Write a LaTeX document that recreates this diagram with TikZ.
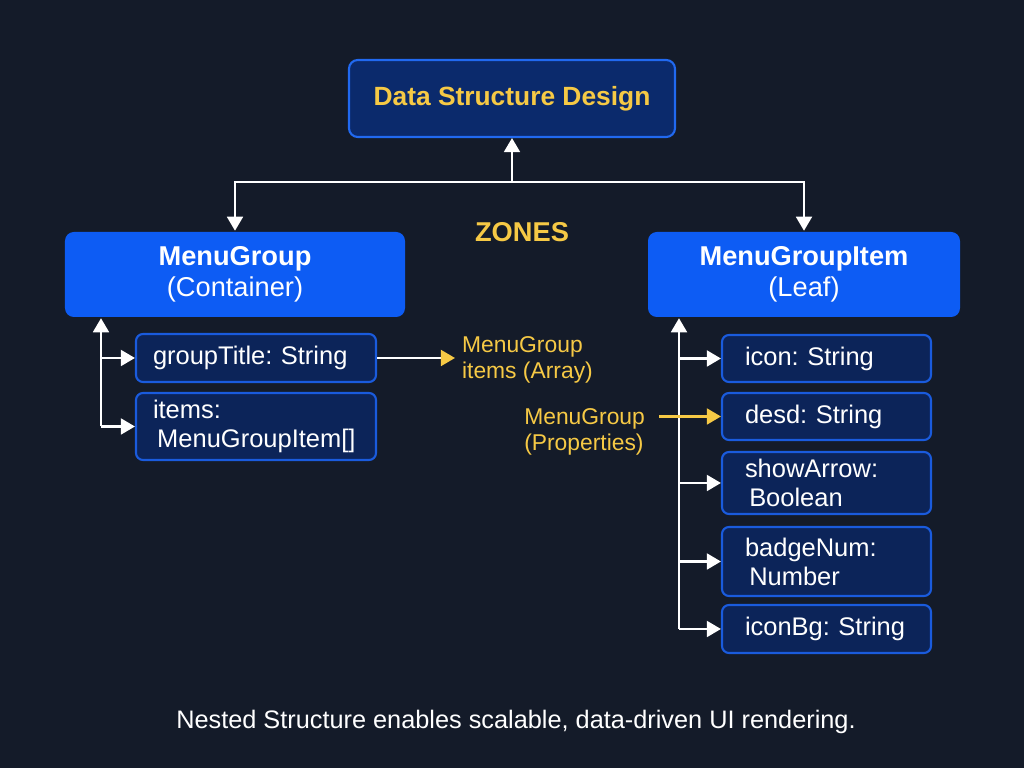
\documentclass[tikz,border=0pt]{standalone}
\usepackage{fontspec}
\setmainfont{Liberation Sans}
\usepackage{xcolor}
\usepackage{tikz}
\usetikzlibrary{arrows.meta}
\frenchspacing

\definecolor{bgnavy}{HTML}{141B29}
\definecolor{titlefill}{HTML}{0B2A6C}
\definecolor{boxedge}{HTML}{2169F0}
\definecolor{brightblue}{HTML}{0D5CF4}
\definecolor{fieldfill}{HTML}{0C2459}
\definecolor{fieldedge}{HTML}{1A5BDD}
\definecolor{gold}{HTML}{F6C945}

\begin{document}
\begin{tikzpicture}[line width=1.4pt,
  titlebox/.style={draw=boxedge,fill=titlefill,rounded corners=5pt,line width=1.2pt,
    minimum width=6.52cm,minimum height=1.54cm,text=gold,
    font=\bfseries\fontsize{15}{18}\selectfont},
  headbox/.style={fill=brightblue,rounded corners=5pt,minimum height=1.7cm,
    text=white,align=center,font=\fontsize{15.5}{18}\selectfont},
  fieldbox/.style={draw=fieldedge,fill=fieldfill,rounded corners=4pt,line width=1.2pt,
    text=white,align=left,font=\fontsize{14.5}{16.5}\selectfont},
  goldtext/.style={text=gold,align=left,font=\fontsize{13}{15}\selectfont},
  link/.style={draw=white,-{Triangle[length=8pt,width=9pt]}},
  goldlink/.style={draw=gold,-{Triangle[length=8pt,width=9pt]}}]
  \fill[bgnavy] (0,0) rectangle (20.48,15.36);

  \node[titlebox] (design) at (10.24,13.39) {Data Structure Design};
  \node[headbox,minimum width=6.8cm] (group) at (4.70,9.87)
    {\textbf{MenuGroup}\\(Container)};
  \node[headbox,minimum width=6.24cm] (leaf) at (16.08,9.87)
    {\textbf{MenuGroupItem}\\(Leaf)};
  \node[text=gold,font=\bfseries\fontsize{15.5}{18}\selectfont] (zones) at (10.44,10.72) {ZONES};

  \coordinate (split) at (10.24,11.72);
  \draw[link] (split) -- (design.south);
  \draw[link] (split) -| (group.north);
  \draw[link] (split) -| (leaf.north);

  \node[fieldbox,text width=4.12cm,minimum height=0.96cm,inner xsep=0.34cm] (gtitle) at (5.12,8.20)
    {groupTitle: String};
  \node[fieldbox,text width=4.12cm,minimum height=1.34cm,inner xsep=0.34cm] (items) at (5.12,6.83)
    {items:\\ \,MenuGroupItem[]};

  \coordinate (ltrunk) at (2.02,6.83);
  \draw[link] (ltrunk) -- (ltrunk |- group.south);
  \draw[link] (ltrunk |- gtitle.west) -- (gtitle.west);
  \draw[link] (ltrunk) -- (items.west);

  \node[goldtext,anchor=west] (arraylbl) at (9.10,8.16) {MenuGroup\\items (Array)};
  \draw[link,-{Triangle[length=8pt,width=9pt,color=gold]}] (gtitle.east) -- (gtitle.east -| arraylbl.west);

  \node[fieldbox,text width=3.26cm,minimum height=0.94cm,inner xsep=0.46cm] (icon) at (16.53,8.19)
    {icon: String};
  \node[fieldbox,text width=3.26cm,minimum height=0.94cm,inner xsep=0.46cm] (desd) at (16.53,7.03)
    {desd: String};
  \node[fieldbox,text width=3.26cm,minimum height=1.24cm,inner xsep=0.46cm] (arrow) at (16.53,5.70)
    {showArrow:\\ \,Boolean};
  \node[fieldbox,text width=3.26cm,minimum height=1.38cm,inner xsep=0.46cm] (badge) at (16.53,4.13)
    {badgeNum:\\ \,Number};
  \node[fieldbox,text width=3.26cm,minimum height=0.96cm,inner xsep=0.46cm] (iconbg) at (16.53,2.78)
    {iconBg: String};

  \coordinate (rtrunk) at (13.58,2.78);
  \draw[link] (rtrunk) -- (rtrunk |- leaf.south);
  \foreach \f in {icon,arrow,badge,iconbg}
    \draw[link] (rtrunk |- \f.west) -- (\f.west);

  \node[goldtext,anchor=east] (props) at (13.04,6.72) {MenuGroup\\(Properties)};
  \draw[goldlink] ([xshift=4pt]props.east |- desd.west) -- (desd.west);

  \node[text=white,font=\fontsize{14.4}{17}\selectfont] (caption) at (10.32,0.92)
    {Nested Structure enables scalable, data-driven UI rendering.};
\end{tikzpicture}
\end{document}
